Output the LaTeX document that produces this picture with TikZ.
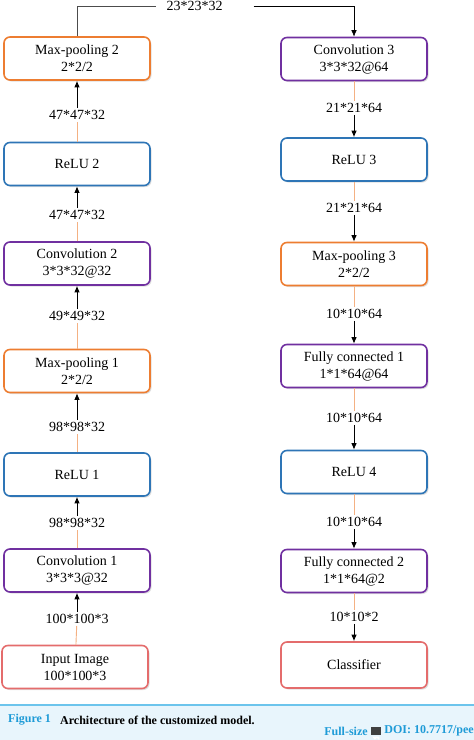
\documentclass[tikz,border=0pt]{standalone}
\usepackage{fontspec}
\setmainfont{Liberation Serif}
\usetikzlibrary{shadows,arrows.meta}
\definecolor{poolorange}{HTML}{ED7D31}
\definecolor{relublue}{HTML}{2E75B6}
\definecolor{convpurple}{HTML}{7030A0}
\definecolor{iored}{HTML}{E46C6C}
\definecolor{tanline}{HTML}{F4B183}
\definecolor{capblue}{HTML}{1E9BD7}
\definecolor{capfill}{HTML}{E8F5FC}
\definecolor{capline}{HTML}{6CC4EC}
\tikzset{
  layer/.style={draw, line width=1.6pt, rounded corners=6pt, fill=white,
    minimum width=146pt, minimum height=43pt, align=center,
    font=\fontsize{14}{17}\selectfont,
    drop shadow={shadow xshift=1.5pt, shadow yshift=-1.5pt, opacity=0.25}},
  pool/.style={layer, draw=poolorange},
  relu/.style={layer, draw=relublue},
  conv/.style={layer, draw=convpurple},
  io/.style={layer, draw=iored},
  size/.style={inner sep=2pt, font=\fontsize{14}{17}\selectfont},
  feed/.style={draw=tanline, line width=0.9pt},
  flow/.style={->, line width=0.9pt},
  capfont/.style={inner sep=0pt, font=\fontsize{12}{14}\selectfont\bfseries}
}
\begin{document}
\begin{tikzpicture}[x=1pt,y=-1pt,>={Latex[length=6.5pt,width=5.5pt]}]
\useasboundingbox (0,0) rectangle (474,740);
% caption band
\fill[capfill] (0,705) rectangle (474,740);
\draw[capline, line width=1.2pt] (0,705) -- (474,705);
% left column
\node[io] (input) at (75,667) {Input Image\\100*100*3};
\node[conv] (conv1) at (77,570.5) {Convolution 1\\3*3*3@32};
\node[relu] (relu1) at (77,474.5) {ReLU 1};
\node[pool] (mp1) at (77,371) {Max-pooling 1\\2*2/2};
\node[conv] (conv2) at (77,263.5) {Convolution 2\\3*3*32@32};
\node[relu] (relu2) at (77,164) {ReLU 2};
\node[pool] (mp2) at (77,58.5) {Max-pooling 2\\2*2/2};
% right column
\node[conv] (conv3) at (354,59) {Convolution 3\\3*3*32@64};
\node[relu] (relu3) at (354,159.5) {ReLU 3};
\node[pool] (mp3) at (354,264) {Max-pooling 3\\2*2/2};
\node[conv] (fc1) at (354,366) {Fully connected 1\\1*1*64@64};
\node[relu] (relu4) at (354,472) {ReLU 4};
\node[conv] (fc2) at (354,571) {Fully connected 2\\1*1*64@2};
\node[io, minimum height=46pt] (cls) at (354,665) {Classifier};
% sizes, left
\node[size] (s1) at (77,619) {100*100*3};
\node[size] (s2) at (77,523) {98*98*32};
\node[size] (s3) at (77,427) {98*98*32};
\node[size] (s4) at (77,316) {49*49*32};
\node[size] (s5) at (77,215) {47*47*32};
\node[size] (s6) at (77,115) {47*47*32};
% sizes, right
\node[size] (t1) at (354,108) {21*21*64};
\node[size] (t2) at (354,208) {21*21*64};
\node[size] (t3) at (354,314) {10*10*64};
\node[size] (t4) at (354,418) {10*10*64};
\node[size] (t5) at (354,522) {10*10*64};
\node[size] (t6) at (354,617) {10*10*2};
\node[size, text width=77pt, align=left, inner xsep=10pt] (top) at (205,6) {23*23*32};
% connectors, left (upwards)
\draw[feed] (input) -- (s1); \draw[flow] (s1) -- (conv1);
\draw[feed] (conv1) -- (s2); \draw[flow] (s2) -- (relu1);
\draw[feed] (relu1) -- (s3); \draw[flow] (s3) -- (mp1);
\draw[feed] (mp1) -- (s4); \draw[flow] (s4) -- (conv2);
\draw[feed] (conv2) -- (s5); \draw[flow] (s5) -- (relu2);
\draw[feed] (relu2) -- (s6); \draw[flow] (s6) -- (mp2);
% across the top
\draw[line width=0.7pt, black!70] (mp2.north) |- (top.west);
\draw[flow, line width=0.7pt] (top.east) -| (conv3.north);
% connectors, right (downwards)
\draw[feed] (conv3) -- (t1); \draw[flow] (t1) -- (relu3);
\draw[feed] (relu3) -- (t2); \draw[flow] (t2) -- (mp3);
\draw[feed] (mp3) -- (t3); \draw[flow] (t3) -- (fc1);
\draw[feed] (fc1) -- (t4); \draw[flow] (t4) -- (relu4);
\draw[feed] (relu4) -- (t5); \draw[flow] (t5) -- (fc2);
\draw[feed] (fc2) -- (t6); \draw[flow] (t6) -- (cls);
% caption
\node[capfont, anchor=west, text=capblue] (fig) at (8,720) {Figure 1};
\node[capfont, anchor=west] (cap) at (60,720) {Architecture of the customized model.};
\node[capfont, anchor=east, text=capblue] (doi) at (474,731) {DOI: 10.7717/pee};
\node[anchor=east, inner sep=0pt, minimum width=10pt, minimum height=8pt, fill=black!75] (icon) at ([xshift=-3pt]doi.west) {};
\fill[white] ([xshift=1.5pt,yshift=-1.5pt]icon.south west) -- ([xshift=4pt,yshift=-4.5pt]icon.south west) -- ([xshift=6pt,yshift=-2.5pt]icon.south west) -- ([xshift=8.5pt,yshift=-5pt]icon.south west) -- ([xshift=8.5pt,yshift=-1.5pt]icon.south west) -- cycle;
\node[capfont, anchor=east, text=capblue] (full) at ([xshift=-3pt]icon.west) {Full-size};
\end{tikzpicture}
\end{document}
